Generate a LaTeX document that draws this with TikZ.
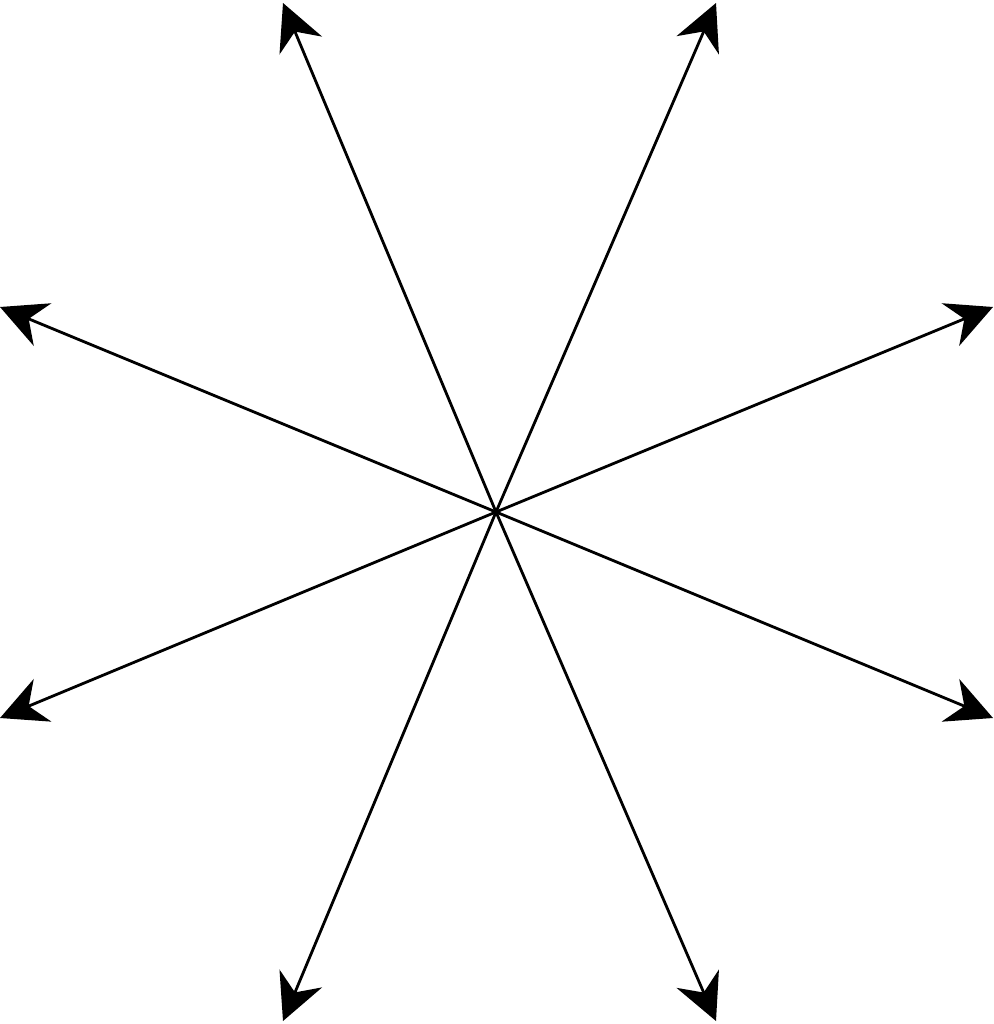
\documentclass[tikz,border=0pt]{standalone}
\usetikzlibrary{arrows.meta}
\begin{document}
\begin{tikzpicture}[x=1pt,y=-1pt,
  ray/.style={line width=2.8pt,-{Stealth[length=46pt,width=46pt,inset=15pt]}}]
\useasboundingbox (0,0) rectangle (993,1024);
\coordinate (c) at (496,512);
\coordinate (e1) at (283,3);
\coordinate (e2) at (716,3);
\coordinate (e3) at (993,307);
\coordinate (e4) at (0,307);
\coordinate (e5) at (0,718);
\coordinate (e6) at (993,718);
\coordinate (e7) at (283,1021);
\coordinate (e8) at (716,1021);
\foreach \e in {e1,e2,e3,e4,e5,e6,e7,e8} \draw[ray] (c) -- (\e);
\end{tikzpicture}
\end{document}
